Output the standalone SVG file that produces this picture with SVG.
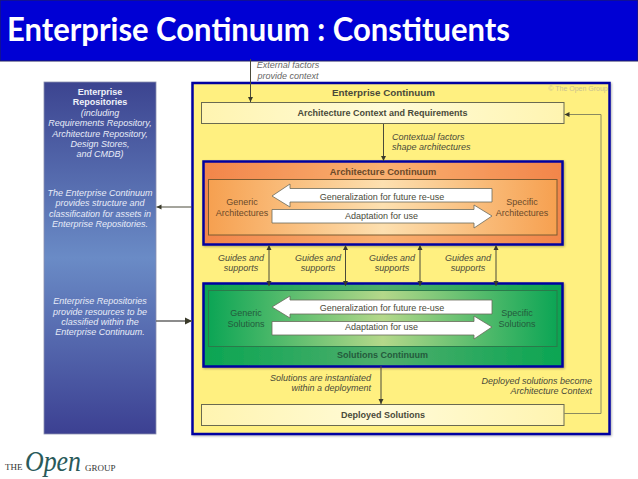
<svg xmlns="http://www.w3.org/2000/svg" width="638" height="479" viewBox="0 0 638 479">
<style>
text{font-family:"Liberation Sans",Arial,sans-serif;font-size:9px;text-anchor:middle;fill:#4a4a3a}
.b{font-weight:bold}.i{font-style:italic}
.w{fill:#e8ecf8;font-style:italic}
.g{fill:#245a3c}
.o{fill:#6a4a2a}
.box{stroke:#6a6a50;stroke-width:1}
.cont{stroke:#0000a0;stroke-width:2.5}
.inner{stroke:#7a5a30;stroke-width:1}
.arw{fill:#fff;stroke:#6a6a5a;stroke-width:.8}
.c{fill:none;stroke:#4a4a3a;stroke-width:1}
</style>
<defs>
<marker id="a" markerWidth="6" markerHeight="6" refX="5" refY="3" orient="auto-start-reverse"><path d="M0,0.5L5,3L0,5.5z" fill="#3a3a2a"/></marker>
<linearGradient id="rep" x1="0" y1="0" x2="0" y2="1"><stop offset="0" stop-color="#3c4490"/><stop offset=".5" stop-color="#6a8bc6"/><stop offset="1" stop-color="#3c4092"/></linearGradient>
<linearGradient id="pale" x1="0" y1="0" x2="1" y2="0"><stop offset="0" stop-color="#fff4b0"/><stop offset=".5" stop-color="#fffbd8"/><stop offset="1" stop-color="#fff4b0"/></linearGradient>
<linearGradient id="or" x1="0" y1="0" x2="1" y2="0"><stop offset="0" stop-color="#f2854a"/><stop offset=".5" stop-color="#f9b070"/><stop offset="1" stop-color="#f2854a"/></linearGradient>
<linearGradient id="or2" x1="0" y1="0" x2="1" y2="0"><stop offset="0" stop-color="#f6a050"/><stop offset=".5" stop-color="#fde0b0"/><stop offset="1" stop-color="#f6a050"/></linearGradient>
<linearGradient id="gr" x1="0" y1="0" x2="1" y2="0"><stop offset="0" stop-color="#0aa552"/><stop offset=".5" stop-color="#4fae6c"/><stop offset="1" stop-color="#0aa552"/></linearGradient>
<linearGradient id="gr2" x1="0" y1="0" x2="1" y2="0"><stop offset="0" stop-color="#0ca555"/><stop offset=".5" stop-color="#b4d88a"/><stop offset="1" stop-color="#0ca555"/></linearGradient>
<filter id="s" x="-5%" y="-5%" width="110%" height="110%"><feDropShadow dx="1" dy="1" stdDeviation="1" flood-color="#000" flood-opacity=".3"/></filter>
</defs>
<rect width="638" height="479" fill="#fff"/>
<g id="title"><rect x="0" y="0" width="638" height="61" fill="#0000d4" stroke="#20205a" stroke-width="1"/>
<text x="7" y="41" textLength="503" lengthAdjust="spacingAndGlyphs" style="font-family:Lato,'Open Sans',sans-serif;font-weight:bold;font-size:32px;text-anchor:start;fill:#fff">Enterprise Continuum : Constituents</text></g>
<text class="i" x="288" y="68" style="fill:#666">External factors</text>
<text class="i" x="288" y="79" style="fill:#666">provide context</text>
<g id="repositories"><rect x="44" y="82" width="112" height="352" fill="url(#rep)" stroke="#8a90b0" stroke-width=".8"/>
<g style="font-size:8.5px">
<text class="b" x="100" y="95" style="fill:#f0f2fa">Enterprise</text>
<text class="b" x="100" y="105" style="fill:#f0f2fa">Repositories</text>
<text class="w" x="100" y="116">(including</text>
<text class="w" x="100" y="126">Requirements Repository,</text>
<text class="w" x="100" y="136.500">Architecture Repository,</text>
<text class="w" x="100" y="147">Design Stores,</text>
<text class="w" x="100" y="157">and CMDB)</text>
<text class="w" x="100" y="196">The Enterprise Continuum</text>
<text class="w" x="100" y="206">provides structure and</text>
<text class="w" x="100" y="216.500">classification for assets in</text>
<text class="w" x="100" y="227">Enterprise Repositories.</text>
<text class="w" x="100" y="304">Enterprise Repositories</text>
<text class="w" x="100" y="315">provide resources to be</text>
<text class="w" x="100" y="325">classified within the</text>
<text class="w" x="100" y="335">Enterprise Continuum.</text>
</g></g>
<g id="enterprise-continuum"><rect x="192.500" y="83" width="417" height="351" fill="#fff080" class="cont" filter="url(#s)"/>
<text class="b" x="383.500" y="95.500" style="font-size:9.800px">Enterprise Continuum</text>
<text x="578" y="91" style="fill:#c8c090;font-size:7px">© The Open Group</text></g>
<g id="context"><rect x="201.500" y="102.500" width="362.500" height="21" fill="url(#pale)" class="box"/>
<text class="b" x="382.500" y="116">Architecture Context and Requirements</text></g>
<text class="i" x="392" y="140" style="text-anchor:start">Contextual factors</text>
<text class="i" x="392" y="150" style="text-anchor:start">shape architectures</text>
<g id="architecture-continuum"><rect x="203.500" y="161.500" width="359" height="83" fill="url(#or)" class="cont" filter="url(#s)"/>
<rect x="208.500" y="179.500" width="348.500" height="55.500" fill="url(#or2)" class="inner"/>
<text class="b o" x="383" y="175" style="font-size:9.300px">Architecture Continuum</text>
<text class="o" x="242" y="205">Generic</text><text class="o" x="242" y="216">Architectures</text>
<text class="o" x="522" y="205">Specific</text><text class="o" x="522" y="216">Architectures</text>
<path class="arw" d="M272,196L290,184V188.500H492V202H290V207z"/>
<path class="arw" d="M272,209.500H474V205L492,216L474,228V223H272z"/>
<text x="382" y="200">Generalization for future re-use</text>
<text x="381.500" y="219">Adaptation for use</text></g>
<g id="guides"><text class="i" x="241" y="261">Guides and</text><text class="i" x="241" y="271">supports</text>
<text class="i" x="318" y="261">Guides and</text><text class="i" x="318" y="271">supports</text>
<text class="i" x="392" y="261">Guides and</text><text class="i" x="392" y="271">supports</text>
<text class="i" x="468" y="261">Guides and</text><text class="i" x="468" y="271">supports</text></g>
<g id="solutions-continuum"><rect x="203.500" y="283.500" width="359" height="83" fill="url(#gr)" class="cont" filter="url(#s)"/>
<rect x="208.500" y="290.500" width="348.500" height="56" fill="url(#gr2)" stroke="#2a7a4a"/>
<text class="b g" x="382.500" y="358">Solutions Continuum</text>
<text class="g" x="246" y="316">Generic</text><text class="g" x="246" y="327">Solutions</text>
<text class="g" x="517" y="316">Specific</text><text class="g" x="517" y="327">Solutions</text>
<path class="arw" d="M272,307L290,296V300H492V314H290V318z"/>
<path class="arw" d="M272,321.500H474V316L492,327L474,339V335H272z"/>
<text x="382" y="311">Generalization for future re-use</text>
<text x="381.500" y="330">Adaptation for use</text></g>
<text class="i" x="371" y="381" style="text-anchor:end">Solutions are instantiated</text>
<text class="i" x="371" y="391" style="text-anchor:end">within a deployment</text>
<text class="i" x="592" y="384" style="text-anchor:end">Deployed solutions become</text>
<text class="i" x="592" y="394" style="text-anchor:end">Architecture Context</text>
<g id="deployed"><rect x="201.500" y="404.500" width="362.500" height="21" fill="url(#pale)" class="box"/>
<text class="b" x="383" y="418">Deployed Solutions</text></g>
<g id="connectors">
<path class="c" d="M250.500,59V102" marker-end="url(#a)"/>
<path class="c" d="M383.500,124V161" marker-end="url(#a)"/>
<path class="c" d="M192,207H156.500" marker-end="url(#a)"/>
<path class="c" d="M156,321H192" style="stroke:#666;stroke-width:1.500" marker-end="url(#a)"/>
<path class="c" d="M269,245V286" marker-start="url(#a)" marker-end="url(#a)"/>
<path class="c" d="M345.500,245V286" marker-start="url(#a)" marker-end="url(#a)"/>
<path class="c" d="M420,245V286" marker-start="url(#a)" marker-end="url(#a)"/>
<path class="c" d="M496,245V286" marker-start="url(#a)" marker-end="url(#a)"/>
<path class="c" d="M381,366V404" marker-end="url(#a)"/>
<path class="c" d="M564,413.500H601V114.500H564.500" style="stroke:#8a8a60" marker-end="url(#a)"/>
</g>
<g id="logo"><text x="5" y="470" style="font-family:'Liberation Serif',serif;font-size:9px;text-anchor:start;fill:#333">THE</text>
<text x="25" y="471" style="font-family:'Liberation Serif',serif;font-style:italic;font-size:29px;text-anchor:start;fill:#2a5a5a" textLength="56" lengthAdjust="spacingAndGlyphs">Open</text>
<text x="85" y="471" style="font-family:'Liberation Serif',serif;font-size:9px;text-anchor:start;fill:#333">GROUP</text></g>
</svg>
